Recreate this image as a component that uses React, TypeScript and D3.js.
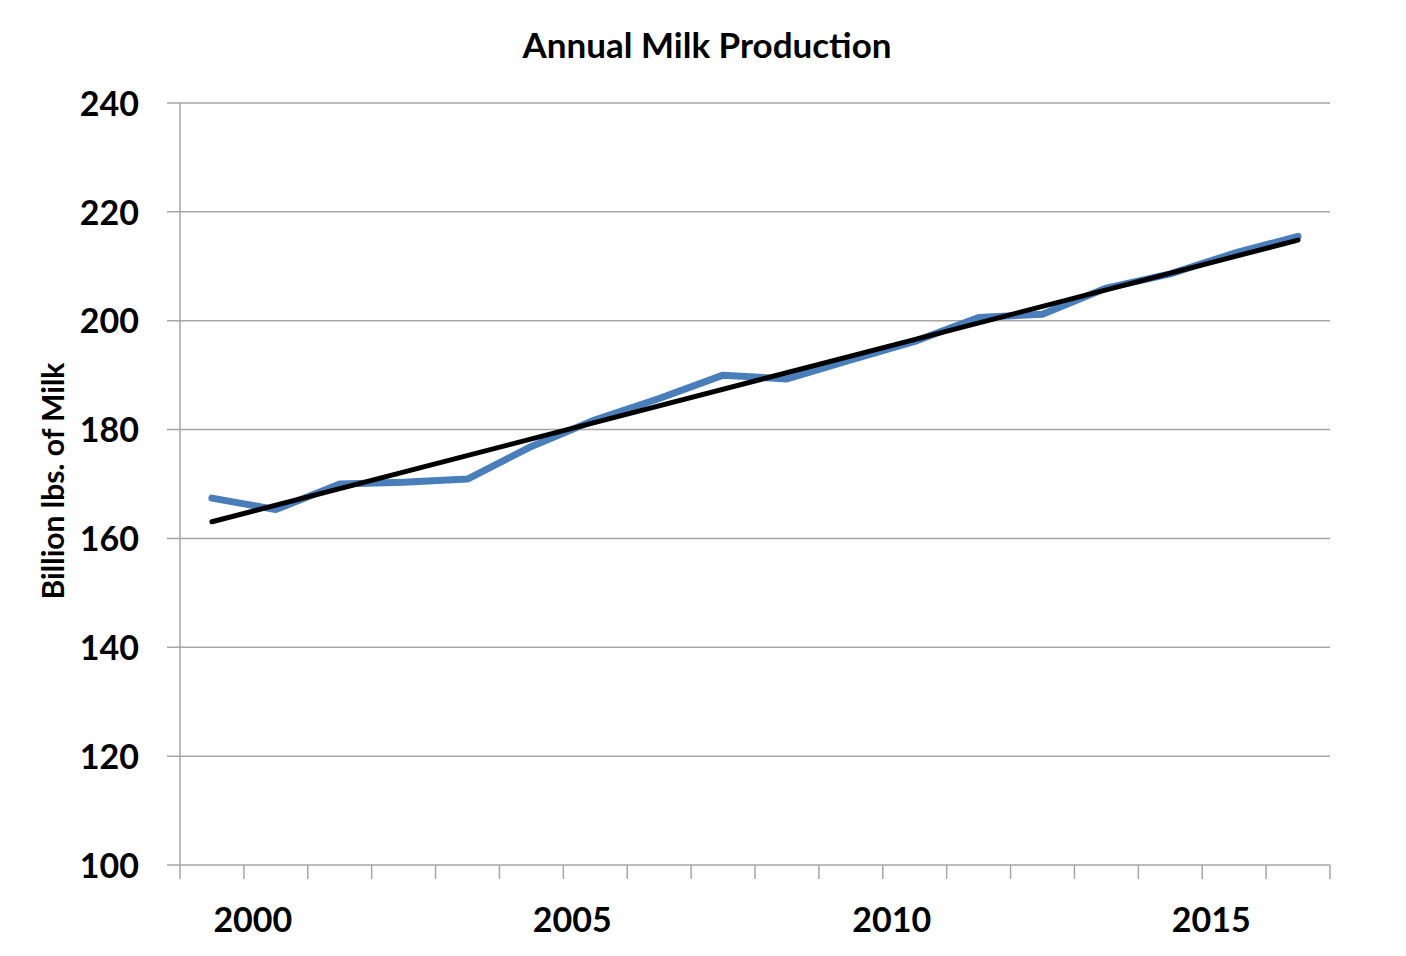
import { useEffect, useRef } from "react";
import * as d3 from "d3";

// annual US milk production, billion lbs
const years = [
  2000, 2001, 2002, 2003, 2004, 2005, 2006, 2007, 2008, 2009, 2010, 2011, 2012,
  2013, 2014, 2015, 2016, 2017,
];
const production = [
  167.4, 165.3, 170.0, 170.3, 170.9, 176.9, 181.8, 185.7, 190.0, 189.3, 192.8,
  196.2, 200.6, 201.2, 206.0, 208.6, 212.4, 215.5,
];
const yTicks = [100, 120, 140, 160, 180, 200, 220, 240];
const xLabels = [2000, 2005, 2010, 2015];

const W = 1406;
const H = 956;
const FONT = "Lato, 'Open Sans', sans-serif";

export default function App(): JSX.Element {
  const ref = useRef<SVGSVGElement | null>(null);

  useEffect(() => {
    if (!ref.current) return;
    const svg = d3.select(ref.current);
    svg.selectAll("*").remove();

    const left = 180;
    const right = 1330;
    const top = 103;
    const bottom = 865;

    const x = d3
      .scaleBand<number>()
      .domain(years)
      .range([left, right])
      .paddingInner(0)
      .paddingOuter(0);
    const bw = x.bandwidth();
    const cx = (yr: number) => (x(yr) ?? 0) + bw / 2;

    const y = d3.scaleLinear().domain([100, 240]).range([bottom, top]);

    const grid = "#a6a6a6";

    // horizontal gridlines + left tick stubs
    svg
      .append("g")
      .selectAll("line")
      .data(yTicks)
      .join("line")
      .attr("x1", left - 13)
      .attr("x2", right)
      .attr("y1", (d) => y(d))
      .attr("y2", (d) => y(d))
      .attr("stroke", grid)
      .attr("stroke-width", 1.5);

    // vertical axis line
    svg
      .append("line")
      .attr("x1", left)
      .attr("x2", left)
      .attr("y1", top)
      .attr("y2", bottom)
      .attr("stroke", grid)
      .attr("stroke-width", 1.5);

    // x tick marks at category boundaries
    const bounds = years.map((yr) => x(yr) ?? 0).concat([right]);
    svg
      .append("g")
      .selectAll("line")
      .data(bounds)
      .join("line")
      .attr("x1", (d) => d)
      .attr("x2", (d) => d)
      .attr("y1", bottom)
      .attr("y2", bottom + 14)
      .attr("stroke", grid)
      .attr("stroke-width", 1.5);

    // y tick labels
    svg
      .append("g")
      .selectAll("text")
      .data(yTicks)
      .join("text")
      .attr("x", 139)
      .attr("y", (d) => y(d) + 4)
      .attr("text-anchor", "end")
      .attr("dominant-baseline", "middle")
      .attr("font-family", FONT)
      .attr("font-weight", 700)
      .attr("font-size", 34)
      .attr("fill", "#000")
      .text((d) => d);

    // x labels (Excel places them a bit right of the category centre)
    svg
      .append("g")
      .selectAll("text")
      .data(xLabels)
      .join("text")
      .attr("x", (d) => cx(d) + bw * 0.64)
      .attr("y", 932)
      .attr("text-anchor", "middle")
      .attr("font-family", FONT)
      .attr("font-weight", 700)
      .attr("font-size", 34)
      .attr("fill", "#000")
      .text((d) => d);

    // title
    svg
      .append("text")
      .attr("x", 707)
      .attr("y", 58)
      .attr("text-anchor", "middle")
      .attr("font-family", FONT)
      .attr("font-weight", 700)
      .attr("font-size", 35)
      .attr("fill", "#000")
      .text("Annual Milk Production");

    // y axis title
    svg
      .append("text")
      .attr("transform", `translate(64,${481}) rotate(-90)`)
      .attr("text-anchor", "middle")
      .attr("font-family", FONT)
      .attr("font-weight", 700)
      .attr("font-size", 30)
      .attr("fill", "#000")
      .text("Billion lbs. of Milk");

    // data line
    const pts = years.map((yr, i) => [cx(yr), y(production[i])] as [number, number]);
    svg
      .append("path")
      .attr("d", d3.line()(pts))
      .attr("fill", "none")
      .attr("stroke", "#4a7ebb")
      .attr("stroke-width", 7)
      .attr("stroke-linejoin", "round")
      .attr("stroke-linecap", "round");

    // linear trendline (least squares on year)
    const mx = d3.mean(years) ?? 0;
    const my = d3.mean(production) ?? 0;
    const sxy = d3.sum(years, (yr, i) => (yr - mx) * (production[i] - my));
    const sxx = d3.sum(years, (yr) => (yr - mx) ** 2);
    const slope = sxy / sxx;
    const fit = (yr: number) => my + slope * (yr - mx);
    const first = years[0];
    const last = years[years.length - 1];
    svg
      .append("line")
      .attr("x1", cx(first))
      .attr("y1", y(fit(first)))
      .attr("x2", cx(last))
      .attr("y2", y(fit(last)))
      .attr("stroke", "#000")
      .attr("stroke-width", 5)
      .attr("stroke-linecap", "round");
  }, []);

  return (
    <svg
      ref={ref}
      width={W}
      height={H}
      viewBox={`0 0 ${W} ${H}`}
      style={{ position: "absolute", left: 0, top: 0, background: "#fff" }}
    />
  );
}
